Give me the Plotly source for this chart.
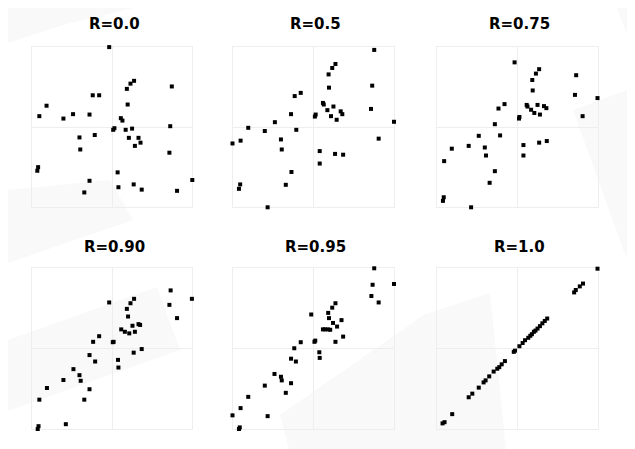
import plotly.graph_objects as go

##########
# Inputs #
##########

titles = ["R=0.0", "R=0.5", "R=0.75", "R=0.90", "R=0.95", "R=1.0"]

x_r00 = [-0.07, 0.55, 0.46, 0.37, 1.49, -0.48, -0.32, -1.63, 0.39, -2.02, -1.81, -1.21, -0.97, -0.56,
         0.22, 0.26, 0.06, 0.03, 0.34, 0.50, 1.45, -0.81, -0.43, 0.42, 0.66, 0.71, 0.57, -0.79, 1.43,
         -1.84, -1.86, 0.14, -0.56, -0.69, 0.16, 0.54, 0.74, 2.00, 1.62, -1.14]
y_r00 = [1.99, 1.15, 1.08, 0.95, 1.01, 0.79, 0.79, 0.53, 0.56, 0.31, 0.27, 0.21, 0.32, 0.31,
         0.22, 0.16, -0.03, -0.07, -0.07, -0.04, 0.02, -0.26, -0.20, -0.27, -0.27, -0.39, -0.47, -0.56, -0.64,
         -1.00, -1.09, -1.13, -1.34, -1.63, -1.50, -1.43, -1.56, -1.32, -1.59, -2.02]

x_r05 = [-0.05, 1.51, 0.55, 0.47, 0.38, 0.39, 1.46, -0.46, -0.31, 0.24, 0.26, 0.50, 0.35, 0.68,
         0.72, 0.44, 0.58, 0.06, 0.04, 1.43, -0.55, -0.95, 2.00, -1.61, -1.20, -0.42, 1.62, -2.00,
         -1.80, -0.80, -0.78, 0.16, 0.54, 0.74, 0.16, -0.54, -1.81, -1.84, -0.68, -1.13]
y_r05 = [2.02, 1.92, 1.57, 1.47, 1.31, 0.98, 1.03, 0.77, 0.85, 0.60, 0.56, 0.51, 0.42, 0.39,
         0.32, 0.27, 0.18, 0.31, 0.26, 0.45, 0.32, 0.12, 0.13, -0.02, -0.10, -0.07, -0.29, -0.41,
         -0.34, -0.31, -0.56, -0.60, -0.67, -0.69, -0.91, -1.12, -1.43, -1.54, -1.44, -2.00]

x_r075 = [1.50, -0.06, 0.55, 0.47, 0.38, 0.39, 1.47, 1.44, 2.00, -0.31, -0.46, 0.24, 0.26, 0.51,
          0.35, 0.43, 0.57, 0.67, 0.73, 0.06, 0.05, 1.63, -0.55, -0.95, -0.42, 0.16, 0.55, 0.74,
          -1.62, -1.20, -0.80, -0.77, 0.16, -2.02, -1.81, -0.55, -0.68, -1.82, -1.84, -1.14]
y_r075 = [2.02, 1.61, 1.44, 1.33, 1.17, 0.91, 1.29, 0.80, 0.72, 0.57, 0.46, 0.55, 0.51, 0.55,
          0.43, 0.35, 0.31, 0.52, 0.47, 0.25, 0.21, 0.27, 0.07, -0.22, -0.21, -0.45, -0.39, -0.35,
          -0.54, -0.47, -0.51, -0.71, -0.71, -0.97, -0.85, -1.10, -1.39, -1.75, -1.84, -2.00]

x_r090 = [1.50, 1.46, 1.99, 1.43, 1.62, -0.07, 0.55, 0.46, 0.37, 0.40, 0.51, 0.66, 0.70, 0.23,
          0.32, 0.43, 0.57, -0.32, -0.47, 0.04, 0.02, -0.56, -0.42, 0.15, 0.16, 0.54, 0.74, -0.96,
          -1.21, -0.81, -0.78, -1.62, -0.56, -1.81, -2.01, -0.69, -1.15, -1.83, -1.85]
y_r090 = [2.01, 1.45, 1.24, 1.09, 0.76, 1.15, 1.24, 1.13, 0.99, 0.80, 0.57, 0.61, 0.59, 0.48,
          0.42, 0.38, 0.42, 0.31, 0.17, 0.17, 0.16, -0.16, -0.32, -0.28, -0.47, -0.10, -0.01, -0.51,
          -0.78, -0.66, -0.80, -0.98, -1.01, -1.27, -1.44, -1.27, -1.88, -1.93, -2.00]

x_r095 = [1.51, 2.00, 1.47, 1.44, 1.62, -0.05, 0.55, 0.47, 0.37, 0.39, 0.70, 0.49, 0.59, 0.24,
          0.29, 0.36, 0.42, 0.74, 0.55, 0.05, 0.03, -0.31, -0.47, 0.15, 0.16, -0.55, -0.43, -0.96,
          -0.80, -0.78, -0.55, -1.20, -0.68, -1.61, -1.80, -1.13, -2.00, -1.84, -1.82]
y_r095 = [2.00, 1.61, 1.59, 1.31, 1.15, 0.85, 1.13, 1.02, 0.89, 0.76, 0.71, 0.64, 0.55, 0.48,
          0.48, 0.48, 0.47, 0.30, 0.17, 0.20, 0.17, 0.16, 0.01, -0.09, -0.23, -0.25, -0.32, -0.63,
          -0.70, -0.79, -0.86, -0.92, -1.10, -1.20, -1.48, -1.68, -1.66, -2.00, -1.96]

x_r100 = [2.00, 1.64, 1.56, 1.46, 1.42, 0.75, 0.69, 0.63, 0.57, 0.51, 0.46, 0.42, 0.37, 0.33,
          0.28, 0.20, 0.14, 0.06, -0.05, -0.08, -0.30, -0.38, -0.44, -0.49, -0.58, -0.69, -0.78,
          -0.83, -0.95, -1.11, -1.20, -1.61, -1.80, -1.85, -2.03]
y_r100 = [1.99, 1.62, 1.55, 1.46, 1.40, 0.75, 0.69, 0.63, 0.56, 0.50, 0.45, 0.42, 0.36, 0.32,
          0.27, 0.21, 0.14, 0.06, -0.05, -0.08, -0.31, -0.39, -0.46, -0.50, -0.57, -0.69, -0.79,
          -0.84, -0.97, -1.12, -1.21, -1.63, -1.83, -1.86, -2.03]

xs = [x_r00, x_r05, x_r075, x_r090, x_r095, x_r100]
ys = [y_r00, y_r05, y_r075, y_r090, y_r095, y_r100]

# faint background shapes, in pixel coords of the page
background_polygons = [
    [(8, 8), (133, 8), (63, 25), (8, 43)],
    [(8, 340), (157, 287), (180, 350), (8, 411)],
    [(8, 263), (133, 220), (110, 180), (8, 190)],
    [(617, 8), (635, 8), (635, 57)],
    [(573, 110), (635, 87), (635, 260), (627, 260)],
    [(280, 415), (424, 315), (440, 449), (289, 449)],
    [(423, 315), (490, 293), (506, 449), (423, 449)],
]


##########
# Layout #
##########

# the page body has an 8px margin, so the figure starts at (8, 8)
OFFSET = 8
WIDTH, HEIGHT = 635 - OFFSET, 449 - OFFSET

col_px = [(31.7, 192.3), (232.5, 394.0), (436.5, 597.5)]
row_px = [(46.7, 207.3), (268.3, 429.0)]
title_px = [24.0, 246.7]


def fx(px):
    return (px - OFFSET) / WIDTH


def fy(py):
    return 1 - (py - OFFSET) / HEIGHT


############
# Plotting #
############

fig = go.Figure()

for i in range(6):
    row, col = divmod(i, 3)
    n = "" if i == 0 else str(i + 1)
    fig.add_trace(go.Scatter(
        x=xs[i], y=ys[i],
        mode="markers",
        marker=dict(symbol="square", size=4, color="black"),
        cliponaxis=False,
        showlegend=False,
        xaxis="x" + n, yaxis="y" + n,
    ))
    axis_style = dict(
        range=[-2, 2], tickvals=[0], showticklabels=False,
        showgrid=True, gridcolor="#eeeeee", gridwidth=1,
        showline=True, mirror=True, linecolor="#eeeeee", linewidth=1,
        zeroline=False, ticks="", layer="below traces",
    )
    fig.update_layout({
        "xaxis" + n: dict(axis_style, domain=[fx(col_px[col][0]), fx(col_px[col][1])], anchor="y" + n),
        "yaxis" + n: dict(axis_style, domain=[fy(row_px[row][1]), fy(row_px[row][0])], anchor="x" + n),
    })
    fig.add_annotation(
        x=fx(sum(col_px[col]) / 2 + 2), y=fy(title_px[row]),
        xref="paper", yref="paper",
        text="<b>" + titles[i] + "</b>",
        showarrow=False,
        font=dict(family="DejaVu Sans", size=15, color="black"),
        xanchor="center", yanchor="middle",
    )

for poly in background_polygons:
    path = "M " + " L ".join(f"{fx(px):.4f},{fy(py):.4f}" for px, py in poly) + " Z"
    fig.add_shape(type="path", path=path, xref="paper", yref="paper",
                  fillcolor="#f9f9f9", line=dict(width=0), layer="below")

fig.update_layout(
    width=WIDTH, height=HEIGHT,
    margin=dict(l=0, r=0, t=0, b=0),
    paper_bgcolor="white",
    plot_bgcolor="rgba(0,0,0,0)",
)

fig.write_html("out.html")
